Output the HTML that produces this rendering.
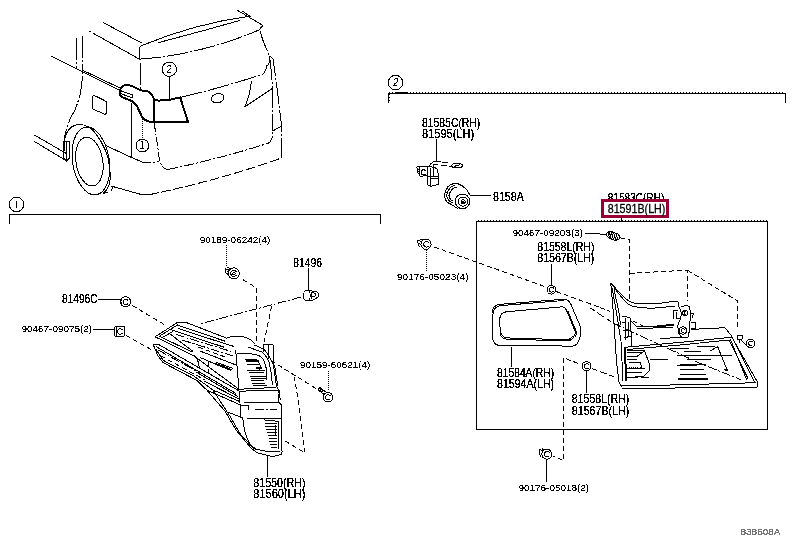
<!DOCTYPE html>
<html><head><meta charset="utf-8"><title>Parts diagram</title>
<style>
html,body{margin:0;padding:0;background:#fff;}
body{width:796px;height:549px;overflow:hidden;font-family:"Liberation Sans",sans-serif;}
svg{display:block;}
.s,.d,.dd,.dt,.b,.f,.ld,.b3,.dt3,.b15,.d10,.dd11{fill:none;stroke:#000;stroke-width:1;stroke-linecap:butt;stroke-linejoin:round;}
.d{stroke-dasharray:5 3;}
.dd{stroke-dasharray:9 2 2 2;}
.dt{stroke-dasharray:1 1;}
.ld{stroke-dasharray:22 2 2 2;}
.dt3{stroke-dasharray:1 2;}
.b15{stroke-width:1.6;}
.d10{stroke-dasharray:10 2.5;}
.dd11{stroke-dasharray:11 2 2 2;}
.b3{stroke-width:2.6;}
.b{stroke-width:2;}
.w{fill:#fff;stroke:#000;stroke-width:1;}
.t{font-family:"Liberation Sans",sans-serif;font-weight:normal;font-size:12.2px;fill:#000;stroke:#000;stroke-width:.3;}
.u{font-family:"Liberation Sans",sans-serif;font-weight:normal;font-size:9.9px;fill:#000;stroke:#000;stroke-width:.14;}
.n{font-family:"Liberation Sans",sans-serif;font-size:10px;fill:#000;text-anchor:middle;}
.c{font-family:"Liberation Sans",sans-serif;font-size:8.8px;fill:#777;stroke:#777;stroke-width:.3;}
</style></head><body>
<svg shape-rendering="crispEdges" width="796" height="549" viewBox="0 0 796 549">
<defs><filter id="th" x="0" y="0" width="796" height="549" filterUnits="userSpaceOnUse" color-interpolation-filters="sRGB"><feComponentTransfer><feFuncA type="discrete" tableValues="0 1"/></feComponentTransfer></filter></defs>
<rect x="0" y="0" width="796" height="549" fill="#fff"/>
<path class="s" d="M102.9,22.4L142.5,43.4"/>
<path class="s" d="M89.4,31.1L91,32M93.5,33.4L138.6,58.7"/>
<path class="ld" d="M76.6,38.3L76.6,67.6"/>
<path class="ld" d="M82.5,35.7L82.5,74"/>
<path class="s" d="M51.1,56.1L122,91.3"/>
<path class="s" d="M82.5,70.2L120,88"/>
<path class="s" d="M139.3,58.9L139.3,49.8Q139.5,45.6 143.2,45Q194.6,23.8 247.5,16.6"/>
<path class="s" d="M157.8,42.8L205.7,30L239.9,20.4"/>
<path class="s" d="M150.2,42.2L152.6,41.3"/>
<path class="ld" d="M138.7,59.2Q200,55 259,30"/>
<path class="s" d="M259,30L262.9,25.5L237.3,10.2"/>
<path class="s" d="M241.9,10.7L251.4,17.3"/>
<path class="ld" d="M140.4,63.2L140.4,88.7"/>
<path class="ld" d="M259.8,30.6Q263,42 269.5,56Q270.5,63 266.7,66.5"/>
<path class="ld" d="M269.5,56L273,58.5Q277.5,90 281.3,123.8L281.3,158"/>
<path class="ld" d="M269.8,58.5Q273.5,85 272.8,131"/>
<path class="s" d="M272.8,131L281.3,126.2"/>
<path class="ld" d="M180.8,97.2Q225,87 262.9,74Q267,70 266.7,65"/>
<path class="s" d="M251.4,81.1Q250,95 245,106.6L273,88"/>
<ellipse class="s" cx="217.7" cy="98.2" rx="6.4" ry="4.6" transform="rotate(-12 217.7 98.2)"/>
<circle class="s" cx="169.3" cy="69.2" r="7.2"/>
<path class="s" d="M169.3,76.4L169.3,99.6"/>
<circle class="s" cx="142.4" cy="145.6" r="6.4"/>
<path class="dt" d="M142.5,116.6L142.5,139"/>
<path class="b" d="M119.6,91Q120.5,88 122.1,86.6Q125,84.3 127.9,84.7L133,86.6L140.6,90.2Q144,91 147,91Q150,92 151.5,94.2Q153,96.5 154,98.7Q155.5,100.4 158.5,100.6L168.7,100L180.2,97.4L188.1,122.3L153.4,122.3Q150,122 147,121Q144,119.5 141.9,116.6Q139.5,111.5 137.4,107Q135.5,103.5 132.3,101.3L122.8,97.4Q119.8,95.8 119.6,93.6Z"/>
<path class="b" d="M154,98.7Q155,110 153.6,122.3"/>
<path class="b3" d="M153.4,122L161,122"/>
<path class="s" d="M121.5,91L132.3,94.9Q133.2,96 132.7,96.8Q132,97.6 131,97.4L120.8,93.6"/>
<path class="ld" d="M82.5,76Q81.5,88 80,95.3Q77,105 74.8,110.6Q70,118 68.5,123.4Q65,132 64.6,138.7L63.9,154"/>
<path class="s" d="M94.5,95.6L104.8,100.6Q106.9,101.7 106.9,104L106.6,112Q106.3,115 103.8,113.8L94,109.6Q92.5,109 92.5,107L92.7,97Q92.7,94.8 94.5,95.6Z"/>
<path class="s" d="M34,134.8L67.2,154"/>
<path class="s" d="M34,141.2L65.9,160.4"/>
<path class="s" d="M63.6,141.5L69.5,141.5L69.5,158L66.5,161L63.6,158Z"/>
<path class="s" d="M66.5,142L66.5,160"/>
<path class="s" d="M64.6,138.7Q68,125.5 78.7,124.4Q90,124.5 96.5,134.8Q102,142 104.7,148.9"/>
<ellipse class="s" cx="90.9" cy="161.0" rx="18.3" ry="34.2" transform="rotate(-9 90.9 161.0)"/>
<ellipse class="s" cx="89.4" cy="161.6" rx="13.4" ry="24.6" transform="rotate(-9 89.4 161.6)"/>
<path class="s" d="M96.5,134.8Q106,148 108.5,160Q111,175 109.8,182Q108,190 102.9,193.5"/>
<path class="d" d="M102.9,193.5L111,191L113,187.5"/>
<path class="s" d="M110.6,185.9L119.5,188.4L142.4,194.8L148.8,194.8"/>
<path class="d10" d="M148.8,194.8Q220,180 281.3,158"/>
<path class="s" d="M104.7,145L132.2,157.8L142.4,162.1"/>
<path class="dd" d="M142.4,162.1Q150,163.5 159,161.5"/>
<path class="s" d="M131.7,103.2L131.7,157.6"/>
<path class="dd" d="M154,122.4Q157,140 159,156.5Q160,167 167.2,169.6"/>
<path class="dd11" d="M167.2,169.6Q215,160 268,143.3Q273,141 272.8,131"/>
<circle class="s" cx="16.5" cy="204.4" r="7.3"/>
<path class="s" d="M16.5,201L16.5,208"/>
<path class="s" d="M9.5,224L9.5,214.5L380.5,214.5L380.5,224"/>
<path class="s" d="M98.2,299.5L120.5,299.5"/>
<path class="s" d="M93.1,329.5L114.5,329.5"/>
<path class="dt" d="M226.5,245L226.5,266"/>
<path class="s" d="M308.5,268L308.5,290"/>
<path class="dt" d="M328,370.6L328,391"/>
<path class="s" d="M267.3,455L267.3,477.3"/>
<circle class="s" cx="125.5" cy="301.8" r="5.1"/>
<path class="s" d="M128.2,300.6A2.7,2.7 0 1 0 127.9,303.6"/>
<path class="s" d="M121.2,299.5Q120.3,301.8 121.5,304.3"/>
<path class="s" d="M116.5,326.3L122.7,326.3Q124.7,326.3 124.7,328.3L124.7,334.5Q124.7,336.5 122.7,336.5L116.5,336.5Q114.5,336.5 114.5,334.5L114.5,328.3Q114.5,326.3 116.5,326.3Z"/>
<path class="s" d="M122.6,330.2A2.7,2.7 0 1 0 122.3,333.3"/>
<path class="s" d="M116.2,326.5L116.2,336.3"/>
<circle class="s" cx="233.7" cy="273.4" r="5.6"/>
<path class="s" d="M236.4,272A3,3 0 1 0 236.2,275.2"/>
<circle class="s" cx="233.9" cy="273.6" r="1.2"/>
<path class="s" d="M225,268.6L229.5,270M225,268.6Q224.5,271 226.5,273.5L228.3,274.5M226.8,267.4L231,268.6M227,271L229,271.8"/>
<ellipse class="s" cx="306.8" cy="295.6" rx="3.4" ry="5.4" transform="rotate(0 306.8 295.6)"/>
<path class="s" d="M308.5,290.8L316,291.2Q319.3,292.8 318.8,296Q317,298.5 311.5,300.6L308.5,300.6"/>
<path class="s" d="M311,292.5L311,299M311,292.8Q316,292.5 315.5,295Q315,296.8 311,297"/>
<circle class="s" cx="328" cy="397.2" r="4.8"/>
<path class="s" d="M330.5,396A2.7,2.7 0 1 0 330.3,399"/>
<path class="s" d="M317.8,390L324.2,394.4M320,387.6L326,392M317.8,390L320,387.6M319.4,391.2L321.6,388.8M321.2,392.3L323.3,390"/>
<path class="d" d="M132,305.3L167.5,326.5"/>
<path class="d" d="M125.9,335.3L152.3,350.2"/>
<path class="d" d="M242.6,279.5L255,287"/>
<path class="d" d="M256.5,288L256.5,342.4"/>
<path class="dd" d="M300.7,297.1L201.5,323.6"/>
<path class="d" d="M271.6,306.3L264,342.4"/>
<path class="d" d="M270.8,360.4L316.7,389"/>
<path class="d" d="M294.3,376.7Q300,410 304.5,452"/>
<path class="d" d="M285.1,441L303.5,452"/>
<path class="s" d="M155.1,336.8L177.4,322.5L187,322.8L226.5,338.1Q230,336.5 234.4,336.4L242.1,336.4Q247,337.5 251,340.2L254.8,343.4"/>
<path class="s" d="M159.6,336.1L177.4,325L225.3,341.3"/>
<path class="s" d="M163.4,337L173,331.5"/>
<path class="s" d="M178,328.3L200,335.7L234.4,346.6"/>
<path class="s" d="M171,329.8L224.2,347.2"/>
<path class="dd" d="M176,334.5L232,351.7"/>
<path class="dd" d="M182,340L235,356.5"/>
<path class="s" d="M155.1,336.8L193.4,355.5L238.5,389"/>
<path class="s" d="M159.6,336.3L192,352"/>
<path class="s" d="M170.4,334.2L193,351.5"/>
<path class="s" d="M194,355.4Q198.5,359 199.1,366.9"/>
<path class="s" d="M200,351L236,365M200,357.4L222,367"/>
<path class="d" d="M198,347L228,358"/>
<path class="b" d="M215.1,363.7L231.6,370.1"/>
<path class="s" d="M216.4,362.4L232.3,368.2L231.6,370.4"/>
<path class="d" d="M208.7,360.5L208.7,373.3"/>
<path class="s" d="M153.2,344.6L158.9,344.6L239.3,391.1"/>
<path class="s" d="M153.2,344.6L157.7,355.4L162.8,362.4L196.6,380.3L206.8,390L225.2,411.4L235.9,429.8L251.2,448.2L257.4,452.8L272.7,456.6L281.8,454.3L282.2,450.5"/>
<path class="s" d="M155.7,349L163.4,360.5L193.4,375.8L213,390L229.8,416L240.5,434.4L254.3,448.9L266.5,451.2L280.3,451.2"/>
<path class="s" d="M156,346.5L236,393.5"/>
<path class="dd" d="M158,350L200,373"/>
<path class="d" d="M161,356L205,380"/>
<path class="s" d="M196,372L238,396.5"/>
<path class="s" d="M204,381L239,399"/>
<path class="s" d="M235.7,350.4L238.9,388.7L239.5,403"/>
<path class="s" d="M237,353L254.8,354.2Q262,356 263.8,360.6L266.3,368.3L267,379.7"/>
<path class="s" d="M253.6,344.7L263.8,349.1Q268.5,354 271.4,360.6L273.3,364.4L276.5,386.1L278.4,390L280.4,400"/>
<path class="s" d="M248.5,347.2L262.5,352.3Q266.5,356 268.9,361.9L271,372L272.5,385"/>
<path class="s" d="M274.5,365L277.7,386"/>
<path class="s" d="M245.1,359.1L257.4,359.1"/>
<path class="b" d="M245.9,361.4L258.9,361.4"/>
<path class="s" d="M246.6,364.5L259.6,364.5"/>
<path class="b" d="M255.8,368.3L261.9,368.3"/>
<path class="s" d="M247.4,370.6L265.0,370.6"/>
<path class="s" d="M248.9,372.9L263.5,372.9"/>
<path class="s" d="M249.7,376.0L266.5,376.0"/>
<path class="s" d="M250.5,378.3L266.5,378.3"/>
<path class="s" d="M251.2,380.6L263.5,380.6"/>
<path class="s" d="M252.0,383.6L265.0,383.6"/>
<path class="s" d="M252.8,385.9L266.5,385.9"/>
<path class="s" d="M254.8,360.6Q259,362 260,364.4Q260.5,367 259.3,369.5"/>
<path class="s" d="M266.3,376.6L266.3,379.5"/>
<path class="s" d="M263.8,351.7L263.8,344.7L272.7,344.7M268.9,345.3L268.9,359.3M273.3,344.7L273.3,364.4"/>
<path class="s" d="M238.3,389.3L276.5,387.4"/>
<path class="s" d="M239.5,391.2L279.1,390L278.8,402.2L243.6,402.2"/>
<path class="s" d="M240.5,405.3L248.2,405.3L248.2,409.9"/>
<path class="s" d="M240.5,405.3L240.5,417.6L242.8,418.3Q244,428 245.1,432.9Q247,439 249.7,443.6Q253,448 257.4,449.7"/>
<path class="dd" d="M255,409.4L277.2,409.4"/>
<path class="s" d="M246.6,418.3L281.8,418.3"/>
<path class="s" d="M278.8,402.2L281.6,405.3L281.8,451"/>
<path class="s" d="M213,390L239.7,401.5M206.8,390L241.3,405.3M225.2,411.4L242.8,417.6"/>
<path class="s" d="M263.5,419.8L278.8,421.4L279,448.9"/>
<path class="b15" d="M264.5,423.5L277.2,423.5"/>
<path class="b15" d="M265.3,426.5L277.2,426.5"/>
<path class="b15" d="M266.1,429.5L277.2,429.5"/>
<path class="b15" d="M266.9,432.5L277.2,432.5"/>
<path class="b15" d="M267.7,435.5L277.2,435.5"/>
<path class="b15" d="M268.5,438.5L277.2,438.5"/>
<path class="b15" d="M269.3,441.5L277.2,441.5"/>
<path class="b15" d="M270.1,444.5L277.2,444.5"/>
<path class="b15" d="M270.9,447.5L277.2,447.5"/>
<path class="s" d="M275,425L275,436"/>
<circle class="s" cx="395.5" cy="82.6" r="7.3"/>
<path class="s" d="M388.5,103L388.5,93.5L785.5,93.5L785.5,103"/>
<path class="dt3" d="M389,92.5L785,92.5"/>
<path class="s" d="M395.3,92.5L407.6,92.5"/>
<path class="dt3" d="M389.5,94L389.5,103"/>
<path class="s" d="M436.3,139.2L436.3,161.5"/>
<path class="s" d="M469.6,195.9L491.1,195.9"/>
<path class="s" d="M476.5,221.5L476.5,429.5L767.5,429.5L767.5,221.5Z"/>
<path class="dt3" d="M478,220.5L767,220.5"/>
<path class="s" d="M621.5,218L621.5,221.5"/>
<path class="dt" d="M426,250L426,271"/>
<path class="s" d="M585.3,233.3L606.5,234.3"/>
<path class="s" d="M551.1,264L551.1,285"/>
<path class="s" d="M511.5,346.5L511.5,366.7"/>
<path class="s" d="M586.3,370.8L586.3,393.3"/>
<path class="s" d="M546.6,459.9L546.6,481.7"/>
<circle class="s" cx="426" cy="244.2" r="5.1"/>
<path class="s" d="M428.8,242.7A2.8,2.8 0 1 0 428.6,246.0"/>
<path class="s" d="M418,240L421.8,241.6M418,240Q417,244 420.5,247.5M419.8,239L423.5,240.3M419.2,243.5L421,244.3"/>
<circle class="s" cx="551.4" cy="289.8" r="4.3"/>
<path class="s" d="M553.8,288.5A2.4,2.4 0 1 0 553.5,291.3"/>
<circle class="s" cx="586.5" cy="366.2" r="4.5"/>
<path class="s" d="M589.0,364.8A2.5,2.5 0 1 0 588.8,367.8"/>
<circle class="s" cx="546.8" cy="454.2" r="5"/>
<path class="s" d="M549.5,452.7A2.8,2.8 0 1 0 549.3,455.9"/>
<path class="s" d="M540,449.5L543.5,451M540,449.5Q538.5,454 541.5,457.5M541.5,448.6L545,450"/>
<path class="s" d="M607,233.2Q608.5,231 612,231.8L618.3,234.2Q620.5,236.3 619,238.8Q616.5,241 613,239.8L608.2,237.5Q606,235.5 607,233.2Z"/>
<path class="s" d="M609.3,232.2L611.5,239.2M611.3,232L613.6,240M613.5,232.6L615.8,240M615.8,233.6L617.8,239.3M608,233L609.5,238"/>
<path class="d" d="M434.2,247L546.9,287.3"/>
<path class="d" d="M556.1,291.5L600,307.5"/>
<path class="d" d="M620.1,237.7L629.5,240L629.5,298.8"/>
<path class="d" d="M629.5,273.3L687.4,270.2L687.4,301.2"/>
<path class="d" d="M687.4,270.2L737.8,301.2L737.8,330.3"/>
<path class="d" d="M590.4,308L600,314.5"/>
<path class="d" d="M563.4,357.6L563.4,460.5L553.5,456.4"/>
<path class="d" d="M565.9,358.6L581.2,364.7"/>
<path class="d" d="M592.4,368.8L601.9,372.2"/>
<path class="s" d="M433.4,161.4L440.6,161.4M442.4,162.6L447.7,162.6"/>
<path class="s" d="M436.6,161.4L433.4,161.4L430.3,164.4L429.4,166.6"/>
<path class="s" d="M438.4,163.9L433.9,164.8L432.6,167.5"/>
<path class="s" d="M441,165.6L447.3,165.7M448.6,166.4L451.8,166.4"/>
<path class="s" d="M453.5,163.6L460.5,163.4Q462.6,164.3 462.5,165.8Q462,167.6 459.5,167.9L454,168Q451.6,167.5 451.8,165.6Q452,164 453.5,163.6Z"/>
<path class="s" d="M454.4,166.2L459.8,164.8M455,167.6L455,166"/>
<path class="s" d="M416.9,167L428.1,166.2M416.9,167L417.4,172L420.5,176.4L427.2,175.5"/>
<path class="s" d="M425.8,171A2.6,2.6 0 1 0 425.6,174"/>
<path class="s" d="M418.2,169L418.2,170M418.4,171.2L418.4,172.2"/>
<path class="s" d="M419.5,167L420,176"/>
<path class="s" d="M428.1,166.2L434.8,167.5L437.9,169.7L438.4,184.5L430.3,186.3L427.2,184.5L427.2,166.5"/>
<path class="s" d="M427.2,176.4L437.9,176.4M430.3,178.7L438.4,178.7"/>
<path class="s" d="M430.3,168.4L430.3,186.3M433.9,168.4L433.9,176.4"/>
<path class="s" d="M454.3,183.4Q446,184.8 444.4,195.2Q445,202.8 451.3,204.3"/>
<path class="s" d="M455.4,185.2Q448.2,186.5 446.7,195.2Q447.3,201.2 452.6,202.9"/>
<path class="s" d="M456.5,187Q450.5,188.5 449,195.5Q449.5,200 453.5,201.3"/>
<path class="s" d="M454.3,183.4L458,183.8Q466.5,187 469.6,194.6"/>
<path class="s" d="M451.3,204.3L458.2,209"/>
<path class="s" d="M447.2,188.5L449.5,189.8M445.2,192L447.6,192.8"/>
<circle class="s" cx="462.5" cy="201.3" r="7.3"/>
<circle class="s" cx="462.9" cy="201.6" r="4.6"/>
<circle class="s" cx="463.1" cy="201.8" r="2.1"/>
<circle class="s" cx="463.1" cy="201.8" r="0.8"/>
<path class="s" d="M492,313Q492.5,305 500.3,304.3L564.1,299.2Q568.5,299.5 570.5,303.4L580,325.7Q581.5,331 580,337.2Q578,345.5 573,346.1L499,345.5Q493.5,344.5 492.7,338.5Z"/>
<path class="s" d="M493.3,313.5Q493.8,306.3 500.8,305.6L563.8,300.5"/>
<path class="s" d="M499.7,319.3Q500,312.5 506.7,311.7L562.8,306.8Q565.5,307.3 566.6,310.4L574.9,330.8Q575.8,333.5 574.3,335.9Q572,340.5 567.9,341L506.7,339.1Q501,338.5 500.3,333.4Z"/>
<path class="s" d="M501.5,333Q502.3,337.5 507,337.9L567.5,339.8Q571,339.2 573.3,335.5"/>
<path class="s" d="M568,311.5L576.2,331.5Q576.8,334.5 575.5,337"/>
<path class="s" d="M610.8,283.3L613.4,313.3L616.6,363.3L619.1,382.4L622.3,387.5"/>
<path class="s" d="M612.1,287.8L616.6,313.3L621,341.3L623,381.1"/>
<path class="s" d="M614,289L619.1,313.3L620.5,325"/>
<path class="s" d="M610.8,283.3L625.5,298.6Q631,303 637,303.7L657.4,303.7L672.7,301.5L677.8,301.5"/>
<path class="s" d="M614,287.8L625.5,301.8Q630,306 635.7,306.9L651,308.4L675.3,306.2"/>
<path class="s" d="M677.8,301.5L679.1,306.9L681.6,313.3L680.4,319L677.8,325.4L678.4,332.4L681.6,337.5L688,337.5L689.3,331.1L690.6,313.3L689.3,306.9L686.7,305L681.6,306.9"/>
<path class="s" d="M678.4,310.1L673.3,310.7L673.3,319M676.5,312L676.5,318.4L680,318.4"/>
<circle class="s" cx="685.2" cy="313" r="2.6"/>
<path class="s" d="M686.4,312.3A1.3,1.3 0 1 0 686.3,313.8"/>
<circle class="s" cx="682.9" cy="330.5" r="3.6"/>
<path class="s" d="M684.7,329.6A1.9,1.9 0 1 0 684.5,331.8"/>
<path class="s" d="M690.6,313.3L693.7,313.3L691.8,318.4"/>
<path class="s" d="M691.2,322.2L695.7,322.2L695.7,328.6L691.2,328.6"/>
<path class="s" d="M637,326.7L657,326"/>
<path class="b" d="M657,325.9L674,325.2"/>
<path class="s" d="M637,328.6L672.7,327.3"/>
<path class="s" d="M630.6,320.9L637,326.7"/>
<path class="s" d="M691.2,329.4L725,327.7L731.9,336.3"/>
<path class="s" d="M621.7,316L630,317.5L632,346M625,318L626,340M628,322L628.8,336M622,322L626,322.5M622.5,330L628.5,331M624,338L631,336"/>
<path class="d" d="M633,321L645,327"/>
<path class="s" d="M624.2,347.3L680,342.4L731.9,337.2L757,381.3L757,387.4L622.4,388.4"/>
<path class="b" d="M624.9,346.7L626.1,381.1"/>
<path class="s" d="M622.3,386L680,384.8L756.1,382.7"/>
<path class="s" d="M626.8,349.5L680,345L729,340L748,378.5"/>
<path class="s" d="M730.2,338.9L746.6,379.6M733.5,340L754.5,382"/>
<path class="s" d="M660,338.8L683,337"/>
<path class="s" d="M626.8,350.5L644.6,351L649.7,364.5L649,371L644,376L627,378"/>
<path class="s" d="M626.8,350.5L644.6,350.5"/>
<path class="s" d="M626.8,352.4L643.4,352.4"/>
<path class="s" d="M627.4,356.9L638.3,356.9"/>
<path class="s" d="M627.4,359.4L637.0,359.4"/>
<path class="s" d="M629.3,362.6L640.8,362.6"/>
<path class="s" d="M627.4,368.4L644.6,368.4"/>
<path class="s" d="M627.4,372.2L642.1,372.2"/>
<path class="s" d="M627.4,377.3L638.3,377.3"/>
<path class="s" d="M640.8,377.9L649.1,377.9"/>
<path class="dt" d="M628.5,367.3L638,367.3"/>
<path class="s" d="M640,363L642,366.5L639.5,368.5"/>
<path class="s" d="M636,357L644.6,351"/>
<path class="s" d="M670.2,348.6L689.3,348.6"/>
<path class="s" d="M676.5,355.0L693.1,355.0"/>
<path class="s" d="M649.7,359.4L667.6,359.4"/>
<path class="s" d="M676.5,365.8L696.9,365.8"/>
<path class="s" d="M697.3,346.7L714.6,346.7"/>
<path class="s" d="M683.5,351.9L700.8,351.9"/>
<path class="s" d="M680.0,355.4L731.9,355.4"/>
<path class="s" d="M686.9,359.7L711.1,359.7"/>
<path class="s" d="M680.0,364.9L706.0,364.9"/>
<path class="s" d="M680.0,369.2L704.2,369.2"/>
<path class="s" d="M680.0,374.4L706.0,374.4"/>
<path class="b" d="M678,378.8L708,378.8"/>
<path class="s" d="M710.3,351L717.6,346.5L727.6,371M727.6,371L724.2,369.4"/>
<circle class="s" cx="750.6" cy="343.3" r="4.3"/>
<path class="s" d="M752.7,342.2A2.2,2.2 0 1 0 752.5,344.9"/>
<path class="s" d="M737.1,335.5L742.3,335.5L742.3,339L737.1,339ZM740.5,339L744.9,344.1L749.2,347.6M738.5,339L740,343"/>
<path class="d" d="M600,307.5L610.2,311.4"/>
<path class="d" d="M600,314.5L612.8,322.8"/>
<path class="dd" d="M612.8,322.8L630,331L700,363.3L740.6,379.6"/>
<path class="d" d="M601.9,372.2L614,376.7"/>
<g filter="url(#th)">
<text class="n" x="169.3" y="72.8">2</text>
<text class="n" x="142.4" y="149.2">1</text>
<text class="t" x="62" y="303" textLength="35.5" lengthAdjust="spacingAndGlyphs">81496C</text>
<text class="u" x="21.6" y="332" textLength="70.4" lengthAdjust="spacingAndGlyphs">90467-09075(2)</text>
<text class="u" x="199.7" y="243.1" textLength="70.7" lengthAdjust="spacingAndGlyphs">90189-06242(4)</text>
<text class="t" x="293.3" y="266.5" textLength="28.8" lengthAdjust="spacingAndGlyphs">81496</text>
<text class="u" x="300" y="368.1" textLength="70.4" lengthAdjust="spacingAndGlyphs">90159-60621(4)</text>
<text class="t" x="253.3" y="486.7" textLength="52.2" lengthAdjust="spacingAndGlyphs">81550(RH)</text>
<text class="t" x="253.3" y="498.4" textLength="52.2" lengthAdjust="spacingAndGlyphs">81560(LH)</text>
<text class="n" x="395.8" y="85.6" font-size="8.5" font-style="italic">2</text>
<text class="t" x="422" y="127.4" textLength="58.3" lengthAdjust="spacingAndGlyphs">81585C(RH)</text>
<text class="t" x="422" y="138.1" textLength="52.1" lengthAdjust="spacingAndGlyphs">81595(LH)</text>
<text class="t" x="493" y="201.2" textLength="30.8" lengthAdjust="spacingAndGlyphs">8158A</text>
<text class="t" x="607.7" y="202" textLength="56.7" lengthAdjust="spacingAndGlyphs">81583C(RH)</text>
<rect x="602.5" y="200.5" width="65" height="16" fill="#fff" stroke="#990033" stroke-width="3"/>
<text class="t" x="607.7" y="213.1" textLength="57.7" lengthAdjust="spacingAndGlyphs">81591B(LH)</text>
<text class="u" x="397" y="280.1" textLength="71.5" lengthAdjust="spacingAndGlyphs">90176-05023(4)</text>
<text class="u" x="512.5" y="235.8" textLength="70.5" lengthAdjust="spacingAndGlyphs">90467-09203(3)</text>
<text class="t" x="537.3" y="250.9" textLength="57.1" lengthAdjust="spacingAndGlyphs">81558L(RH)</text>
<text class="t" x="537.3" y="262" textLength="57.1" lengthAdjust="spacingAndGlyphs">81567B(LH)</text>
<text class="t" x="497.1" y="377" textLength="57" lengthAdjust="spacingAndGlyphs">81584A(RH)</text>
<text class="t" x="497.1" y="387.7" textLength="57" lengthAdjust="spacingAndGlyphs">81594A(LH)</text>
<text class="t" x="571.8" y="402.6" textLength="57.4" lengthAdjust="spacingAndGlyphs">81558L(RH)</text>
<text class="t" x="571.8" y="414.5" textLength="57.4" lengthAdjust="spacingAndGlyphs">81567B(LH)</text>
<text class="u" x="518.5" y="491.3" textLength="70.6" lengthAdjust="spacingAndGlyphs">90176-05018(2)</text>
<text class="c" x="740.6" y="535.2" textLength="39.7" lengthAdjust="spacingAndGlyphs">838508A</text>
</g>
</svg>
</body></html>
